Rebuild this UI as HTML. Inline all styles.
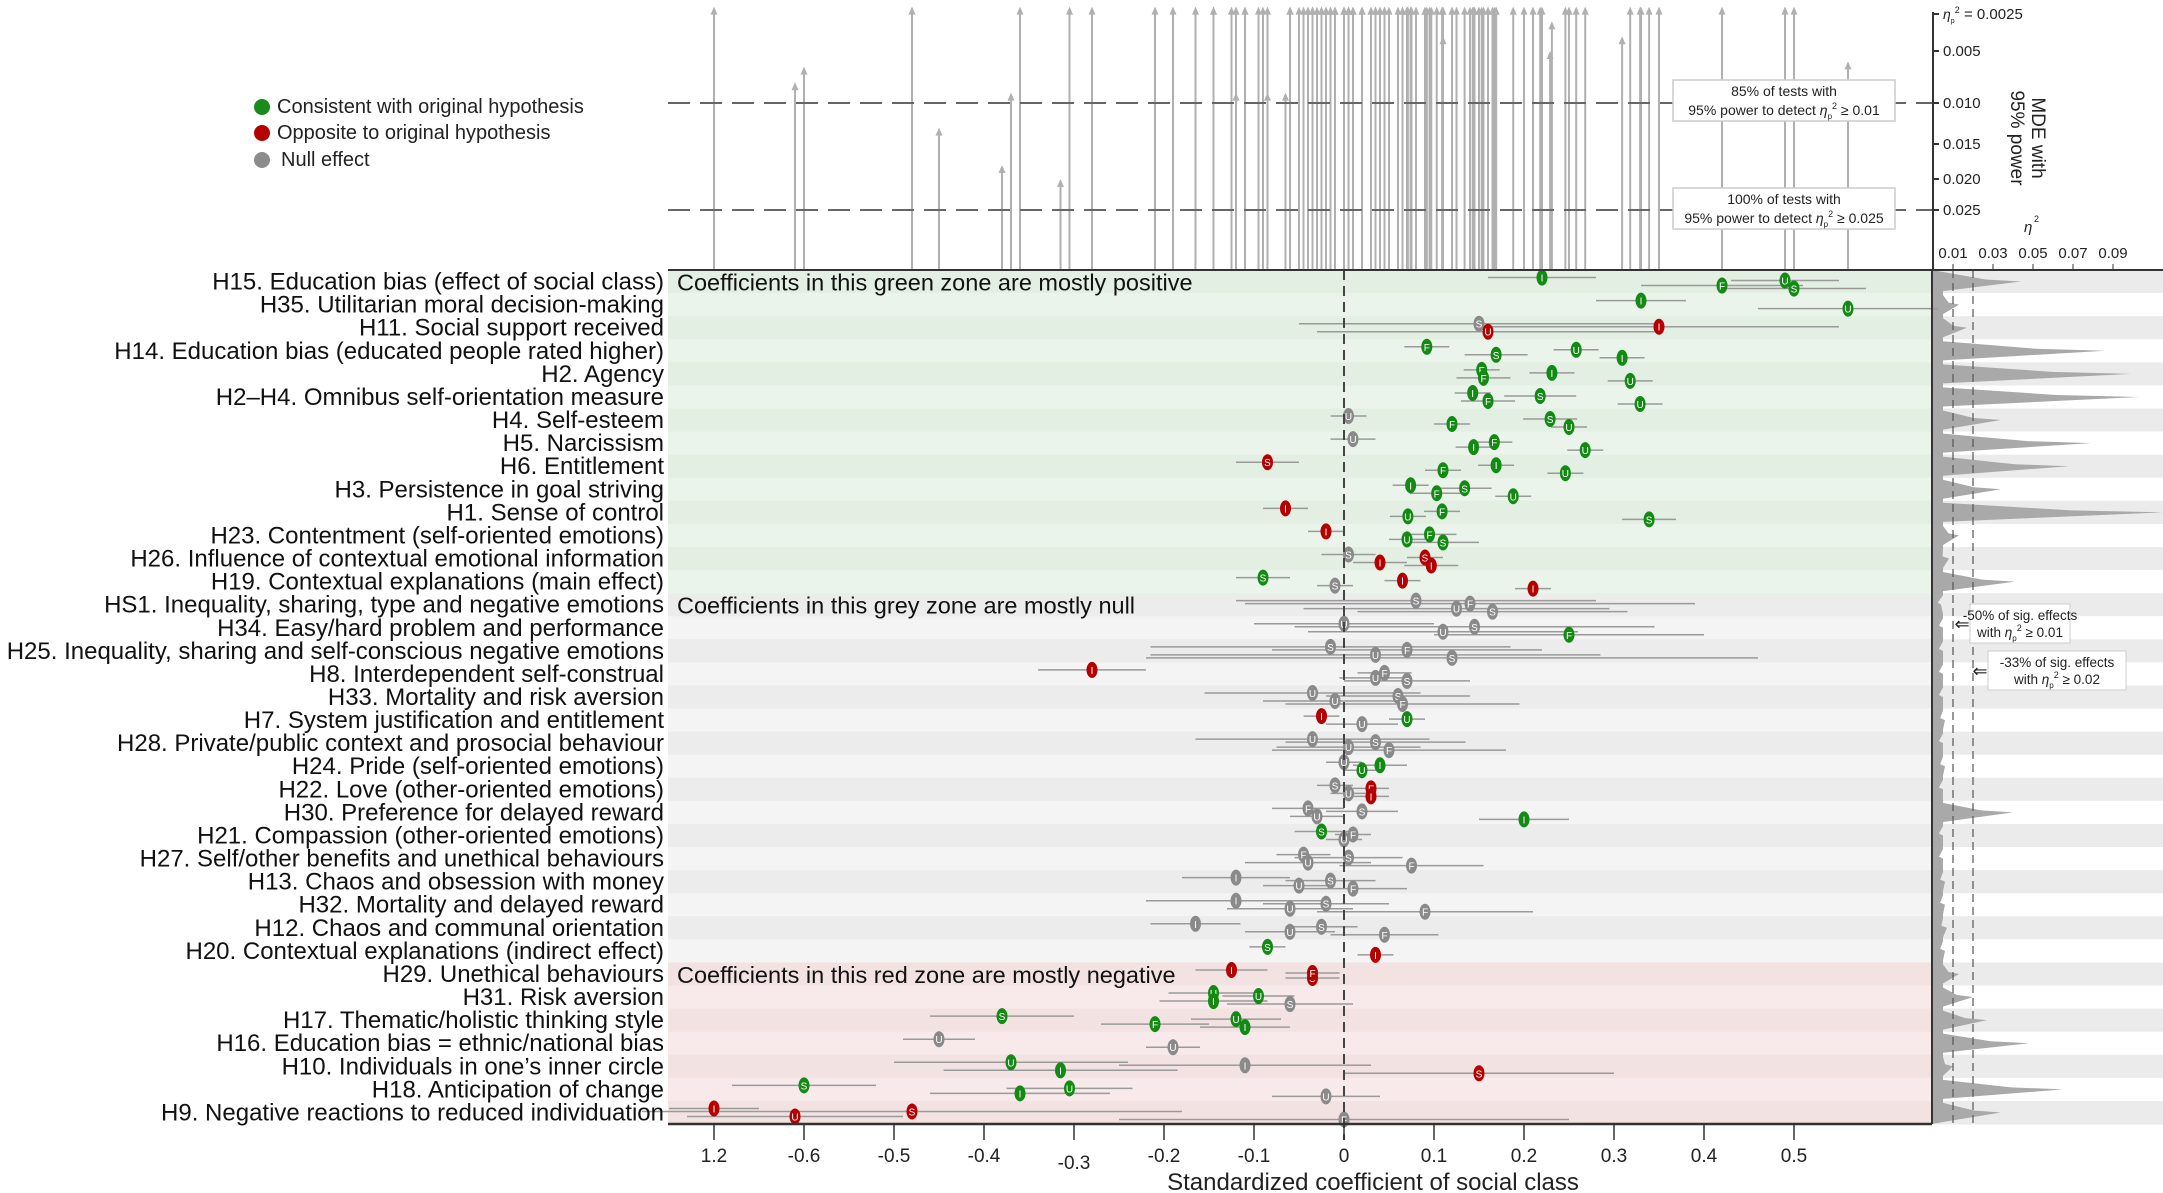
<!DOCTYPE html>
<html><head><meta charset="utf-8"><style>
html,body{margin:0;padding:0;background:#fff}
svg{display:block;font-family:"Liberation Sans",sans-serif}
</style></head><body>
<svg id="chart" width="2163" height="1193" viewBox="0 0 2163 1193" xmlns="http://www.w3.org/2000/svg">
<g id="bands"></g>
<g id="right"></g>
<g id="top"></g>
<g id="cis"></g>
<g id="pts"></g>
<g id="labels"></g>
<g id="axes"></g>
<g font-size="20" fill="#222">
 <circle cx="262" cy="107" r="8" fill="#1a8a1a"/>
 <text x="277" y="113">Consistent with original hypothesis</text>
 <circle cx="262" cy="133" r="8" fill="#b40000"/>
 <text x="277" y="139">Opposite to original hypothesis</text>
 <circle cx="262" cy="160" r="8" fill="#8c8c8c"/>
 <text x="281" y="166">Null effect</text>
</g>
</svg>
<script>
const labels=["H15. Education bias (effect of social class)","H35. Utilitarian moral decision-making","H11. Social support received","H14. Education bias (educated people rated higher)","H2. Agency","H2–H4. Omnibus self-orientation measure","H4. Self-esteem","H5. Narcissism","H6. Entitlement","H3. Persistence in goal striving","H1. Sense of control","H23. Contentment (self-oriented emotions)","H26. Influence of contextual emotional information","H19. Contextual explanations (main effect)","HS1. Inequality, sharing, type and negative emotions","H34. Easy/hard problem and performance","H25. Inequality, sharing and self-conscious negative emotions","H8. Interdependent self-construal","H33. Mortality and risk aversion","H7. System justification and entitlement","H28. Private/public context and prosocial behaviour","H24. Pride (self-oriented emotions)","H22. Love (other-oriented emotions)","H30. Preference for delayed reward","H21. Compassion (other-oriented emotions)","H27. Self/other benefits and unethical behaviours","H13. Chaos and obsession with money","H32. Mortality and delayed reward","H12. Chaos and communal orientation","H20. Contextual explanations (indirect effect)","H29. Unethical behaviours","H31. Risk aversion","H17. Thematic/holistic thinking style","H16. Education bias = ethnic/national bias","H10. Individuals in one’s inner circle","H18. Anticipation of change","H9. Negative reactions to reduced individuation"];
const values=[[0.22,0.42,0.49,0.50],[0.33,0.56],[0.15,0.16,0.35],[0.092,0.169,0.258,0.309],[0.153,0.155,0.231,0.318],[0.143,0.16,0.218,0.329],[0.005,0.12,0.229,0.25],[0.01,0.144,0.167,0.268],[-0.085,0.11,0.169,0.246],[0.074,0.103,0.134,0.188],[-0.065,0.071,0.109,0.339],[-0.02,0.07,0.095,0.11],[0.005,0.04,0.09,0.097],[-0.09,-0.01,0.065,0.21],[0.08,0.125,0.14,0.165],[0.0,0.11,0.145,0.25],[-0.015,0.035,0.07,0.12],[-0.28,0.035,0.045,0.07],[-0.035,-0.01,0.06,0.065],[-0.025,0.02,0.07],[-0.035,0.005,0.035,0.05],[0.0,0.02,0.04],[-0.01,0.005,0.03,0.03],[-0.04,-0.03,0.02,0.2],[-0.025,0.0,0.01],[-0.045,-0.04,0.005,0.075],[-0.12,-0.05,-0.015,0.01],[-0.12,-0.06,-0.02,0.09],[-0.165,-0.06,-0.025,0.045],[-0.085,0.035],[-0.125,-0.035,-0.035],[-0.145,-0.145,-0.095,-0.06],[-0.38,-0.21,-0.12,-0.11],[-0.45,-0.19],[-0.37,-0.315,-0.11,0.15],[-0.6,-0.36,-0.305,-0.02],[-0.70,-0.61,-0.48,0.0]];
const colors=["gggg","gg","nrr","gggg","gggg","gggg","nggg","nggg","rggg","gggg","rggg","rggg","nrrr","gnrr","nnnn","nnng","nnnn","rnnn","nnnn","rng","nnnn","ngg","nnrr","nnng","gnn","nnnn","nnnn","nnnn","nnnn","gr","rrr","gggn","gggg","nn","ggnr","gggn","rrrn"];
const letters=["IFUS","IU","SUI","FSUI","FFIU","IFSU","UFSU","UIFU","SFIU","IFSU","IUFS","IUFS","SISI","SSII","SUFS","UUSF","SUFS","IUFS","UUSF","IUU","UUSF","UUI","SUFI","FUSI","SUF","FUSF","IUSF","IUSF","IUSF","SI","IUF","UIUS","SFUI","UU","UIIS","SIUU","IUSF"];
const errors=[[0.06,0.09,0.06,0.08],[0.05,0.1],[0.2,0.19,0.2],[0.025,0.035,0.025,0.025],[0.02,0.03,0.025,0.025],[0.02,0.03,0.04,0.025],[0.02,0.02,0.03,0.02],[0.025,0.02,0.02,0.02],[0.035,0.02,0.02,0.02],[0.02,0.03,0.03,0.02],[0.025,0.02,0.02,0.03],[0.02,0.02,0.03,0.04],[0.03,0.03,0.02,0.03],[0.03,0.02,0.02,0.02],[0.2,0.17,0.25,0.15],[0.1,0.15,0.2,0.15],[0.2,0.25,0.15,0.34],[0.06,0.04,0.03,0.07],[0.12,0.08,0.08,0.13],[0.02,0.04,0.02],[0.13,0.08,0.1,0.13],[0.02,0.02,0.03],[0.02,0.02,0.02,0.02],[0.04,0.03,0.04,0.05],[0.03,0.02,0.02],[0.03,0.07,0.06,0.08],[0.06,0.04,0.05,0.06],[0.1,0.07,0.07,0.12],[0.05,0.05,0.04,0.06],[0.02,0.02],[0.04,0.03,0.03],[0.05,0.06,0.04,0.07],[0.08,0.06,0.05,0.05],[0.04,0.03],[0.13,0.13,0.14,0.15],[0.08,0.1,0.07,0.06],[0.05,0.12,0.3,0.25]];
const mde=[[0.002,0.002,0.002,0.002],[0.002,0.006],[0.002,0.002,0.002],[0.002,0.002,0.002,0.004],[0.002,0.002,0.003,0.002],[0.002,0.002,0.002,0.002],[0.002,0.002,0.005,0.002],[0.002,0.002,0.002,0.002],[0.009,0.002,0.002,0.002],[0.002,0.002,0.002,0.002],[0.009,0.002,0.002,0.002],[0.002,0.002,0.002,0.004],[0.002,0.002,0.002,0.002],[0.002,0.002,0.002,0.002],[0.002,0.002,0.002,0.002],[0.002,0.002,0.002,0.002],[0.002,0.002,0.002,0.002],[0.002,0.002,0.002,0.002],[0.002,0.002,0.002,0.002],[0.002,0.002,0.002],[0.002,0.002,0.002,0.002],[0.002,0.002,0.002],[0.002,0.002,0.002,0.002],[0.002,0.002,0.002,0.002],[0.002,0.002,0.002],[0.002,0.002,0.002,0.002],[0.009,0.002,0.002,0.002],[0.002,0.002,0.002,0.002],[0.002,0.002,0.002,0.002],[0.002,0.002],[0.002,0.002,0.002],[0.002,0.002,0.002,0.002],[0.018,0.002,0.002,0.002],[0.013,0.002],[0.009,0.02,0.002,0.002],[0.0065,0.002,0.002,0.002],[0.002,0.008,0.002,0.002]];
const density=[0.044,0.013,0.017,0.086,0.099,0.103,0.034,0.079,0.068,0.034,0.115,0.013,0.008,0.041,0.004,0.005,0.005,0.005,0.005,0.006,0.005,0.006,0.005,0.04,0.005,0.005,0.006,0.006,0.007,0.006,0.013,0.02,0.027,0.048,0.01,0.065,0.034];
const xTicks=[-0.7,-0.6,-0.5,-0.4,-0.3,-0.2,-0.1,0,0.1,0.2,0.3,0.4,0.5];
const xTickLabels=["1.2","-0.6","-0.5","-0.4","-0.3","-0.2","-0.1","0","0.1","0.2","0.3","0.4","0.5"];
const mdeTicks=[0.0025,0.005,0.010,0.015,0.020,0.025];
const mdeTickLabels=["= 0.0025","0.005","0.010","0.015","0.020","0.025"];
const densTicks=[0.01,0.03,0.05,0.07,0.09];

const NS="http://www.w3.org/2000/svg";
const PL=668,PR=1932,PT=270,PB=1124,N=labels.length,RH=(PB-PT)/N;
const x=v=>1344+v*900;
const y=i=>PT+(i+0.5)*RH;
const mdeY=[14,51,103,144,179,210];
function yM(m){let k=0;if(m>=mdeTicks[mdeTicks.length-1])k=mdeTicks.length-2;else{while(k<mdeTicks.length-2&&m>mdeTicks[k+1])k++;}
 return mdeY[k]+(m-mdeTicks[k])/(mdeTicks[k+1]-mdeTicks[k])*(mdeY[k+1]-mdeY[k]);}
const xD=d=>1933+d*2000;
const colMap={g:"#138a13",r:"#b40000",n:"#8a8a8a"};
function mk(tag,attrs,parent,txt){const e=document.createElementNS(NS,tag);for(const k in attrs)e.setAttribute(k,attrs[k]);if(txt!==undefined)e.textContent=txt;parent.appendChild(e);return e;}
const gB=document.getElementById('bands'),gR=document.getElementById('right'),gT=document.getElementById('top'),gC=document.getElementById('cis'),gP=document.getElementById('pts'),gL=document.getElementById('labels'),gA=document.getElementById('axes');
const zoneOf=i=>i<14?0:(i<30?1:2);
const zc=[["#e3efe3","#eaf4ea"],["#ececec","#f4f4f4"],["#f3e2e2","#f8eaea"]];
for(let i=0;i<N;i++){
 const b=mk('rect',{x:PL,y:PT+i*RH,width:PR-PL,height:RH+0.5,fill:zc[zoneOf(i)][i%2]},gB);
 
 
 const rb=mk('rect',{x:PR,y:PT+i*RH,width:2163-PR,height:RH+0.5,fill:i%2?"#ffffff":"#ebebeb"},gR);
 
 
}
let d=`M${PR} ${PT}`;
for(let i=0;i<N;i++){const t=PT+i*RH;d+=` L${xD(0.005)} ${t+2} L${xD(density[i]*0.6)} ${y(i)-2} L${xD(density[i])} ${y(i)} L${xD(0.005)} ${t+RH-2}`;}
d+=` L${PR} ${PB} Z`;
const dp=mk('path',{d:d,fill:"#a9a9a9"},gR);


[0.01,0.02].forEach(v=>{const l=mk('line',{x1:xD(v),x2:xD(v),y1:PT,y2:PB,stroke:"#555","stroke-width":1.2,"stroke-dasharray":"8 5"},gR);
 });
densTicks.forEach(v=>{const t=mk('text',{x:xD(v),y:258,"font-size":15,"text-anchor":"middle",fill:"#222"},gR,String(v));
 
 mk('line',{x1:xD(v),x2:xD(v),y1:264,y2:270,stroke:"#333"},gR);});
[["Coefficients in this green zone are mostly positive",0],["Coefficients in this grey zone are mostly null",14],["Coefficients in this red zone are mostly negative",30]].forEach(z=>{
 const t=mk('text',{x:677,y:y(z[1])+9,"font-size":23.5,fill:"#111"},gB,z[0]);
 });
for(let i=0;i<N;i++)values[i].forEach((v,k)=>{
 const yy=yM(mde[i][k]);
 const l=mk('line',{x1:x(v),x2:x(v),y1:PT,y2:yy+6,stroke:"#b0b0b0","stroke-width":2},gT);
 
 const a=mk('path',{d:`M${x(v)-3.5} ${yy+8} L${x(v)} ${yy} L${x(v)+3.5} ${yy+8} Z`,fill:"#b0b0b0"},gT);
 
});
[0.010,0.025].forEach(m=>{const l=mk('line',{x1:PL,x2:PR,y1:yM(m),y2:yM(m),stroke:"#666","stroke-width":2,"stroke-dasharray":"22 10"},gT);
 });
[[80,"85% of tests with","0.01"],[188,"100% of tests with","0.025"]].forEach(b=>{
 const r=mk('rect',{x:1673,y:b[0],width:222,height:41,fill:"#fff",stroke:"#ccc","stroke-width":1.5},gT);
 
 mk('text',{x:1784,y:b[0]+16,"font-size":14,"text-anchor":"middle",fill:"#222"},gT,b[1]);
 const t=mk('text',{x:1784,y:b[0]+35,"font-size":14,"text-anchor":"middle",fill:"#222"},gT);
 t.innerHTML=`95% power to detect <tspan font-style="italic">η</tspan><tspan font-size="8" dy="4">p</tspan><tspan font-size="9" dy="-10">2</tspan><tspan dy="6"> ≥ ${b[2]}</tspan>`;
});
mk('line',{x1:1933,x2:1933,y1:12,y2:PT,stroke:"#333","stroke-width":2},gT);
mdeTicks.forEach((m,k)=>{mk('line',{x1:1933,x2:1939,y1:yM(m),y2:yM(m),stroke:"#333","stroke-width":2},gT);
 const t=mk('text',{x:k?1943:1964,y:yM(m)+5,"font-size":15,fill:"#222"},gT,mdeTickLabels[k]);
 });
const et=mk('text',{x:1943,y:19,"font-size":14,fill:"#222"},gT);
et.innerHTML=`<tspan font-style="italic">η</tspan><tspan font-size="7" dy="4">p</tspan><tspan font-size="9" dy="-10">2</tspan>`;
const mt=mk('text',{x:0,y:0,"font-size":19,fill:"#222","text-anchor":"middle",transform:"translate(2022,138) rotate(90)"},gT);

mk('tspan',{x:0,dy:-10},mt,"MDE with");mk('tspan',{x:0,dy:21},mt,"95% power");
mk('text',{x:2024,y:232,"font-size":15,"font-style":"italic",fill:"#222"},gT,"η");
mk('text',{x:2034,y:222,"font-size":9,fill:"#222"},gT,"2");
[[1970,604,100,"-50% of sig. effects","0.01",1962,630],[1988,651,138,"-33% of sig. effects","0.02",1980,677]].forEach(b=>{
 const r=mk('rect',{x:b[0],y:b[1],width:b[2],height:39,fill:"#fff",stroke:"#ccc"},gR);
 
 mk('text',{x:b[0]+b[2]/2,y:b[1]+16,"font-size":13.5,"text-anchor":"middle",fill:"#222"},gR,b[3]);
 const t=mk('text',{x:b[0]+b[2]/2,y:b[1]+33,"font-size":13.5,"text-anchor":"middle",fill:"#222"},gR);
 t.innerHTML=`with <tspan font-style="italic">η</tspan><tspan font-size="8" dy="4">p</tspan><tspan font-size="9" dy="-10">2</tspan><tspan dy="6"> ≥ ${b[4]}</tspan>`;
 mk('text',{x:b[5],y:b[6],"font-size":18,"text-anchor":"middle",fill:"#222"},gR,"⇐");
});
for(let i=0;i<N;i++){
 values[i].forEach((v,k)=>{
  const off=(k%2?4:-4)+(k>1?3:0);
  const yy=y(i)+off;
  const l=mk('line',{x1:x(v-errors[i][k]),x2:x(v+errors[i][k]),y1:yy,y2:yy,stroke:"#9a9a9a","stroke-width":1.5},gC);
  
  const c=mk('ellipse',{cx:x(v),cy:yy,rx:5.5,ry:8,fill:colMap[colors[i][k]]},gP);
  
  mk('text',{x:x(v),y:yy+4,"font-size":10,"text-anchor":"middle",fill:"#fff"},gP,letters[i][k]);
 });
 const t=mk('text',{x:664,y:y(i)+8,"font-size":24,"text-anchor":"end",fill:"#111"},gL,labels[i]);
 
}
const z=mk('line',{x1:x(0),x2:x(0),y1:PT,y2:PB+16,stroke:"#444","stroke-width":2,"stroke-dasharray":"10 6"},gA);

mk('line',{x1:PL,x2:2163,y1:PT,y2:PT,stroke:"#333","stroke-width":2},gA);
mk('line',{x1:PL,x2:PR,y1:PB,y2:PB,stroke:"#333","stroke-width":2.5},gA);
mk('line',{x1:PR,x2:PR,y1:PT,y2:PB,stroke:"#333","stroke-width":2},gA);
xTicks.forEach((v,k)=>{mk('line',{x1:x(v),x2:x(v),y1:PB,y2:PB+16,stroke:"#333","stroke-width":1.5},gA);
 const t=mk('text',{x:x(v),y:PB+(v===-0.3?45:38),"font-size":19,"text-anchor":"middle",fill:"#222"},gA,xTickLabels[k]);
 });
const xt=mk('text',{x:1373,y:1190,"font-size":24,"text-anchor":"middle",fill:"#222"},gA,"Standardized coefficient of social class");

</script>
</body></html>
